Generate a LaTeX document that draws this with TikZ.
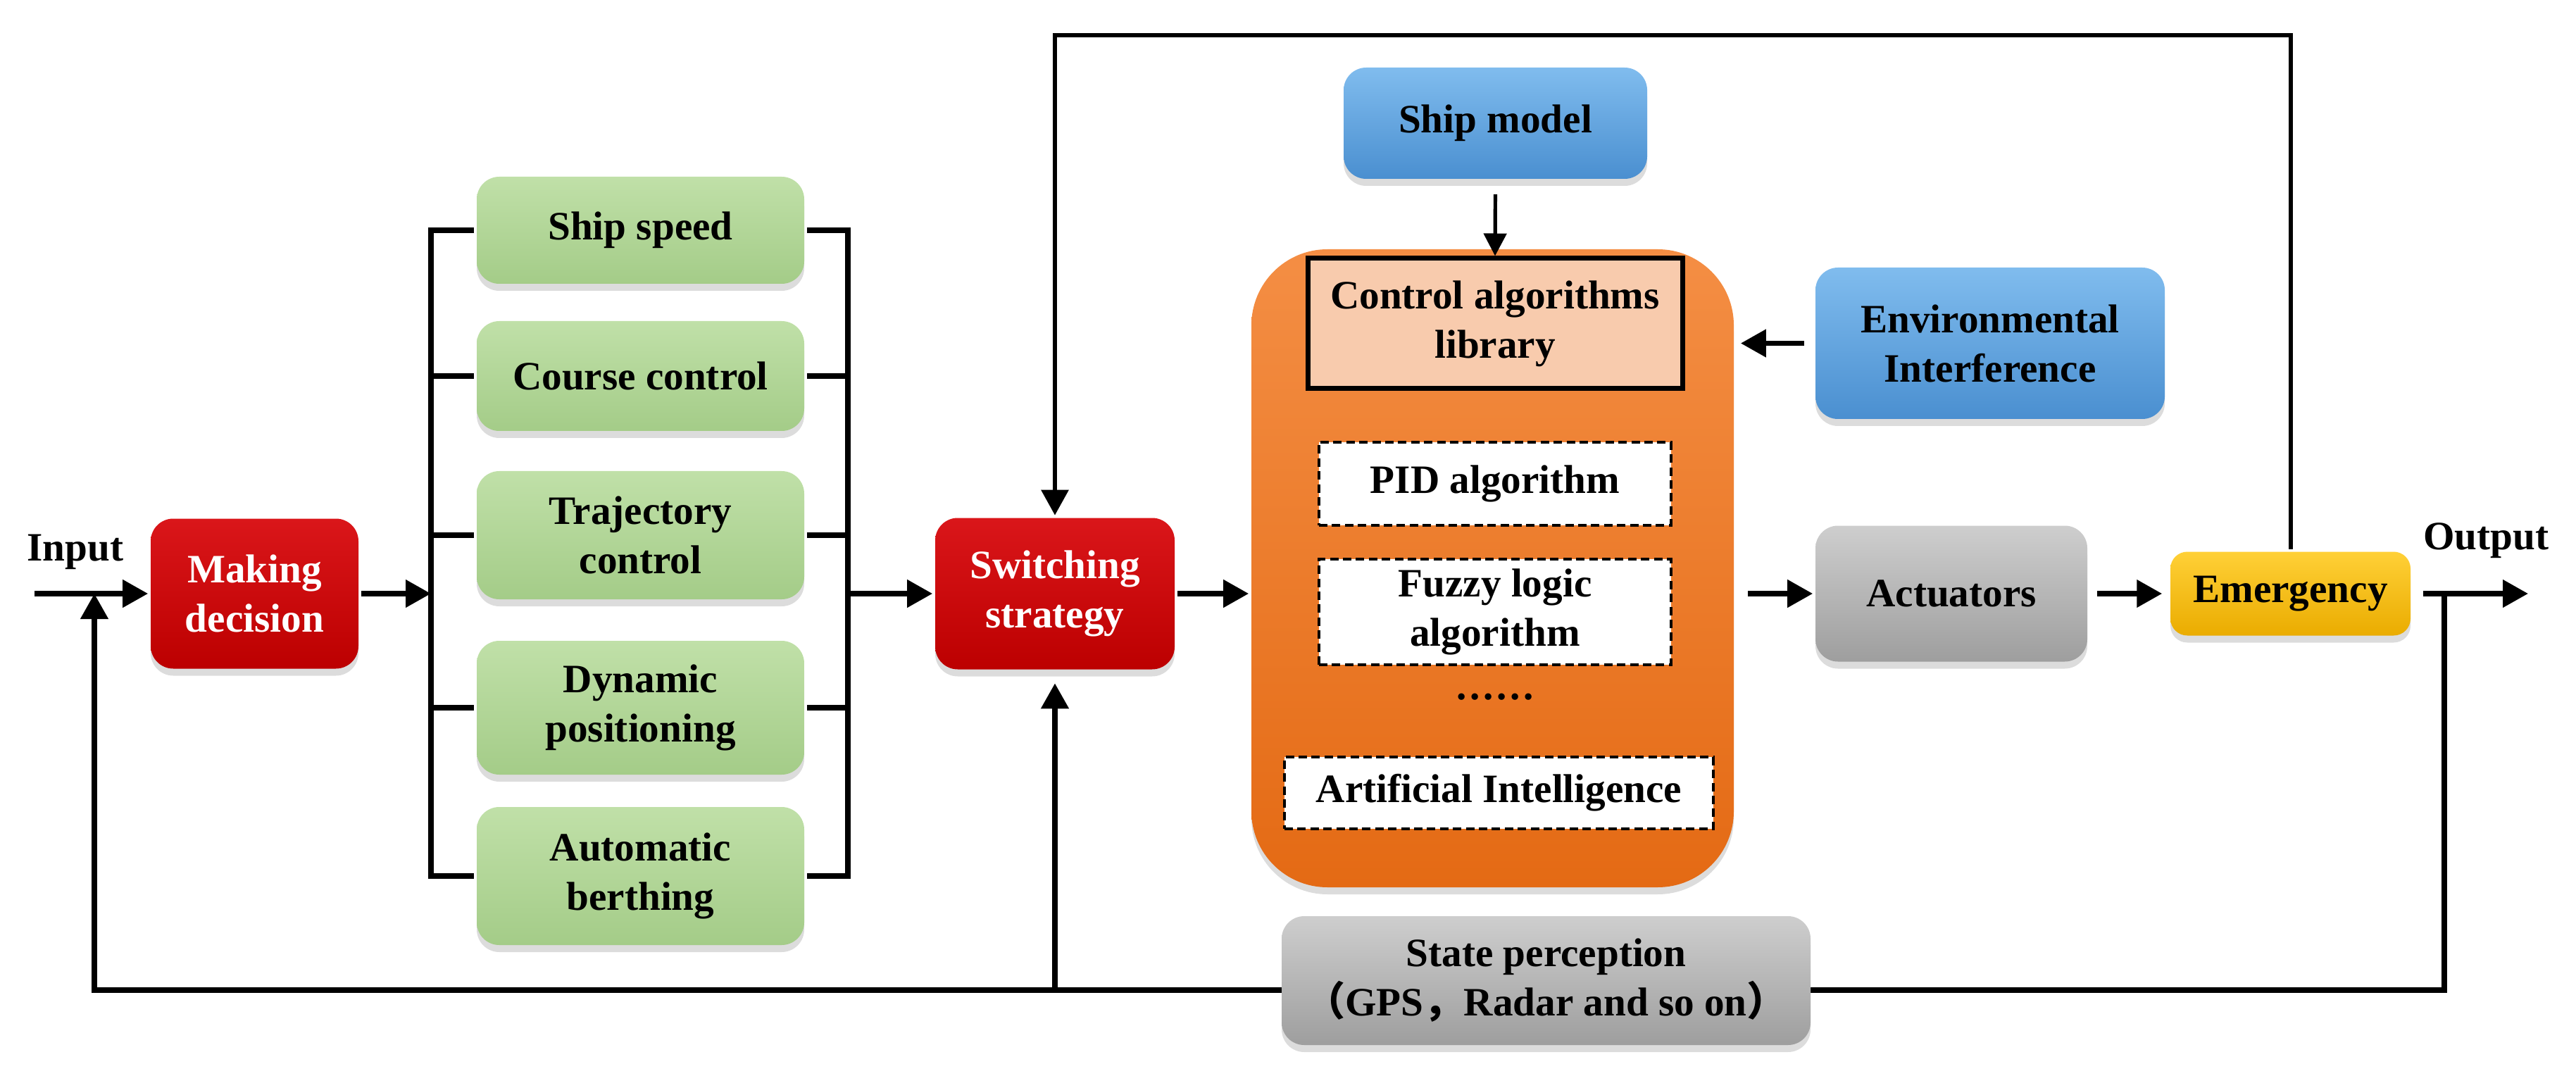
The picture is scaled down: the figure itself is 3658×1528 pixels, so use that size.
\documentclass[tikz,border=0pt]{standalone}
\usepackage{fontspec}
\setmainfont{Liberation Serif}
\newfontfamily\cjk{Noto Sans CJK SC}
\usetikzlibrary{arrows.meta,shadows}
\definecolor{redT}{RGB}{218,22,26}
\definecolor{redB}{RGB}{188,0,0}
\definecolor{greenT}{RGB}{192,224,168}
\definecolor{greenB}{RGB}{164,204,136}
\definecolor{blueT}{RGB}{128,188,238}
\definecolor{blueB}{RGB}{74,143,208}
\definecolor{grayT}{RGB}{206,206,206}
\definecolor{grayB}{RGB}{158,158,158}
\definecolor{yelT}{RGB}{255,208,55}
\definecolor{yelB}{RGB}{234,172,0}
\definecolor{orT}{RGB}{244,142,68}
\definecolor{orB}{RGB}{228,106,20}
\definecolor{peach}{RGB}{248,203,173}
\begin{document}
\begin{tikzpicture}[x=0.25pt,y=0.25pt,line width=1.9pt,
  every node/.style={font=\fontsize{14.3pt}{17.5pt}\selectfont\bfseries},
  arr/.style={-{Triangle[length=9pt,width=9.5pt]}},
  sz/.style 2 args={minimum width={#1*0.25pt},minimum height={#2*0.25pt}},
  shadebox/.style={rounded corners=8pt,align=center,inner sep=0pt,draw=none,
    drop shadow={shadow xshift=0pt,shadow yshift=-2.5pt,opacity=0.28}},
  redbox/.style={shadebox,top color=redT,bottom color=redB,text=white},
  greenbox/.style={shadebox,top color=greenT,bottom color=greenB},
  bluebox/.style={shadebox,top color=blueT,bottom color=blueB},
  graybox/.style={shadebox,top color=grayT,bottom color=grayB},
  yelbox/.style={shadebox,rounded corners=6pt,top color=yelT,bottom color=yelB},
  orbox/.style={shadebox,rounded corners=27pt,top color=orT,bottom color=orB},
  libbox/.style={draw=black,line width=1.75pt,fill=peach,align=center,inner sep=0pt},
  dashbox/.style={draw=black,line width=1.1pt,dash pattern=on 3pt off 1.6pt,fill=white,align=center,inner sep=0pt},
  lbl/.style={inner sep=0pt}
]
\useasboundingbox (0,0) rectangle (3658,-1528);

% coordinates
\coordinate (bL) at (612,0);
\coordinate (bR) at (1204,0);
\coordinate (top) at (0,-50);
\coordinate (bot) at (0,-1406);
\coordinate (inS) at (49,-843);
\coordinate (inJ) at (134,-843);
\coordinate (outJ) at (3471,-843);
\coordinate (outE) at (3590,-843);

% nodes
\node[lbl] (inlbl) at (107,-784) {Input};
\node[lbl] (outlbl) at (3530,-768) {Output};
\node[redbox,sz={295}{213}] (dec) at (361.5,-843) {Making\\decision};
\node[greenbox,sz={465}{152}] (g1) at (909.5,-327) {Ship speed};
\node[greenbox,sz={465}{156}] (g2) at (909.5,-534) {Course control};
\node[greenbox,sz={465}{182}] (g3) at (909.5,-760) {Trajectory\\control};
\node[greenbox,sz={465}{190}] (g4) at (909.5,-1005) {Dynamic\\positioning};
\node[greenbox,sz={465}{196}] (g5) at (909.5,-1244) {Automatic\\berthing};
\node[redbox,sz={340}{215}] (sw) at (1498,-843) {Switching\\strategy};
\node[orbox,sz={685}{906}] (ctrl) at (2119.5,-807) {};
\node[bluebox,sz={431}{158}] (ship) at (2123.5,-175) {Ship model};
\node[libbox,sz={532}{185}] (lib) at (2123,-459.5) {Control algorithms\\library};
\node[dashbox,sz={500}{118}] (pid) at (2123,-687) {PID algorithm};
\node[dashbox,sz={500}{150}] (fuzzy) at (2123,-869) {Fuzzy logic\\algorithm};
\node[lbl] (dots) at (2123,-990) {.\kern1.2pt.\kern1.2pt.\kern1.2pt.\kern1.2pt.\kern1.2pt.};
\node[dashbox,sz={609}{102}] (ai) at (2128.5,-1126) {Artificial Intelligence};
\node[bluebox,sz={496}{215}] (env) at (2826,-487.5) {Environmental\\Interference};
\node[graybox,sz={386}{193}] (act) at (2771,-843) {Actuators};
\node[yelbox,sz={341}{119}] (emg) at (3252.5,-843) {Emergency};

% connectors
\draw[arr] (inS) -- (dec.west);
\draw[arr] (dec.east) -- (dec.east -| bL);
\draw (g1.west) -- (g1.west -| bL) -- (g5.west -| bL) -- (g5.west);
\foreach \g in {g2,g3,g4} \draw (\g.west) -- (\g.west -| bL);
\draw (g1.east) -- (g1.east -| bR) -- (g5.east -| bR) -- (g5.east);
\foreach \g in {g2,g3,g4} \draw (\g.east) -- (\g.east -| bR);
\draw[arr] (sw.west -| bR) -- (sw.west);
\draw[arr] (sw.east) -- (sw.east -| ctrl.west);
\draw[arr,shorten <=4pt] (act.west -| ctrl.east) -- (act.west);
\draw[arr,shorten <=2.5pt,shorten >=2pt] (act.east) -- (emg.west);
\draw[arr,shorten <=3.5pt] (emg.east) -- (outE);
\draw[line width=1.3pt,-{Triangle[length=8pt,width=8pt]},shorten <=4.5pt] (ship.south) -- (lib.north);
\draw[arr,shorten <=3pt,shorten >=1.5pt] (env.west) -- (env.west -| ctrl.east);
\draw[arr,line width=1.5pt] (emg.north) -- (emg.north |- top) -- (sw.north |- top) -- (sw.north);
\draw[arr] (outJ) -- (outJ |- bot) -- (inJ |- bot) -- (inJ);
\draw[arr,shorten >=4pt] (sw.south |- bot) -- (sw.south);

\node[graybox,sz={751}{183}] (state) at (2195.5,-1392.5) {State perception\\{\cjk （}GPS{\cjk ，}Radar and so on{\cjk ）}};
\end{tikzpicture}
\end{document}
